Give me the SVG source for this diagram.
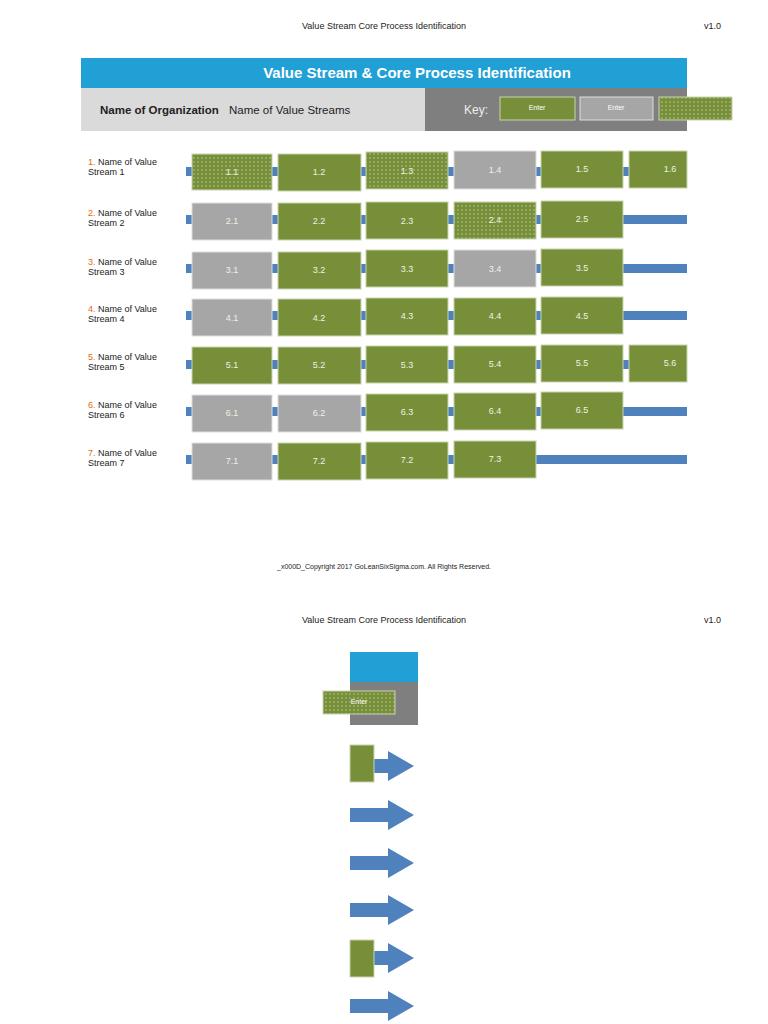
<svg xmlns="http://www.w3.org/2000/svg" width="768" height="1024" viewBox="0 0 768 1024">
<style>
text{font-family:"Liberation Sans",Arial,sans-serif}
.h{font-size:9px;fill:#222}
.g{fill:#768f38;stroke:#c9d3b0;stroke-width:1}
.d{fill:url(#dots);stroke:#c9d3b0;stroke-width:1}
.y{fill:#a6a6a6;stroke:#ddd;stroke-width:1}
.bar{fill:#4f81bd}
.n{font-size:9px;fill:#eef2e4;text-anchor:middle}
.lb{font-size:9px;fill:#222}
.o{fill:#e36c0a}
</style>
<defs>
<pattern id="dots" width="4" height="4" patternUnits="userSpaceOnUse">
<rect width="4" height="4" fill="#768f38"/><circle cx="2" cy="2" r="0.7" fill="#c8d6a8"/>
</pattern>
</defs>
<text class="h" x="384" y="29" text-anchor="middle">Value Stream Core Process Identification</text>
<text class="h" x="704" y="29">v1.0</text>
<rect x="81" y="58" width="606" height="30" fill="#21a0d6"/>
<text x="417" y="78" font-size="15" font-weight="bold" fill="#fff" text-anchor="middle">Value Stream &amp; Core Process Identification</text>
<rect x="81" y="88" width="344" height="43" fill="#dadada"/>
<rect x="425" y="88" width="262" height="43" fill="#7f7f7f"/>
<text x="100" y="114" font-size="11.5" font-weight="bold" fill="#222">Name of Organization</text>
<text x="229" y="114" font-size="11.5" fill="#222">Name of Value Streams</text>
<text x="464" y="114" font-size="12" fill="#eee">Key:</text>
<g id="key"><rect x="500" y="97" width="75" height="23" class="g"/><text x="537" y="110" font-size="7" fill="#fff" text-anchor="middle">Enter</text>
<rect x="580" y="97" width="73" height="23" class="y"/><text x="616" y="110" font-size="7" fill="#fff" text-anchor="middle">Enter</text>
<rect x="659" y="97" width="73" height="23" class="d"/></g>
<g id="labels" class="lb">
<text x="88" y="165"><tspan class="o">1.</tspan> Name of Value</text><text x="88" y="175">Stream 1</text>
<text x="88" y="216"><tspan class="o">2.</tspan> Name of Value</text><text x="88" y="226">Stream 2</text>
<text x="88" y="265"><tspan class="o">3.</tspan> Name of Value</text><text x="88" y="275">Stream 3</text>
<text x="88" y="312"><tspan class="o">4.</tspan> Name of Value</text><text x="88" y="322">Stream 4</text>
<text x="88" y="360"><tspan class="o">5.</tspan> Name of Value</text><text x="88" y="370">Stream 5</text>
<text x="88" y="408"><tspan class="o">6.</tspan> Name of Value</text><text x="88" y="418">Stream 6</text>
<text x="88" y="456"><tspan class="o">7.</tspan> Name of Value</text><text x="88" y="466">Stream 7</text>
</g>
<g id="connectors">
<rect class="bar" x="186" y="167" width="501" height="9"/>
<rect class="bar" x="186" y="215" width="501" height="9"/>
<rect class="bar" x="186" y="264" width="501" height="9"/>
<rect class="bar" x="186" y="311" width="501" height="9"/>
<rect class="bar" x="186" y="360" width="501" height="9"/>
<rect class="bar" x="186" y="407" width="501" height="9"/>
<rect class="bar" x="186" y="455" width="501" height="9"/>
</g>
<g id="row1">
<rect class="d" x="192" y="154" width="80" height="36"/><text class="n" x="232" y="175">1.1</text>
<rect class="g" x="278" y="154" width="83" height="37"/><text class="n" x="319" y="175">1.2</text>
<rect class="d" x="366" y="152" width="82" height="37"/><text class="n" x="407" y="174">1.3</text>
<rect class="y" x="454" y="151" width="82" height="38"/><text class="n" x="495" y="173">1.4</text>
<rect class="g" x="541" y="151" width="82" height="37"/><text class="n" x="582" y="172">1.5</text>
<rect class="g" x="629" y="151" width="58" height="37"/><text class="n" x="670" y="172">1.6</text>
</g>
<g id="row2">
<rect class="y" x="192" y="203" width="80" height="37"/><text class="n" x="232" y="224">2.1</text>
<rect class="g" x="278" y="203" width="83" height="37"/><text class="n" x="319" y="224">2.2</text>
<rect class="g" x="366" y="202" width="82" height="37"/><text class="n" x="407" y="224">2.3</text>
<rect class="d" x="454" y="202" width="82" height="37"/><text class="n" x="495" y="223">2.4</text>
<rect class="g" x="541" y="201" width="82" height="37"/><text class="n" x="582" y="222">2.5</text>
</g>
<g id="row3">
<rect class="y" x="192" y="252" width="80" height="37"/><text class="n" x="232" y="273">3.1</text>
<rect class="g" x="278" y="252" width="83" height="37"/><text class="n" x="319" y="273">3.2</text>
<rect class="g" x="366" y="250" width="82" height="37"/><text class="n" x="407" y="272">3.3</text>
<rect class="y" x="454" y="250" width="82" height="37"/><text class="n" x="495" y="272">3.4</text>
<rect class="g" x="541" y="249" width="82" height="37"/><text class="n" x="582" y="271">3.5</text>
</g>
<g id="row4">
<rect class="y" x="192" y="299" width="80" height="37"/><text class="n" x="232" y="321">4.1</text>
<rect class="g" x="278" y="299" width="83" height="37"/><text class="n" x="319" y="321">4.2</text>
<rect class="g" x="366" y="298" width="82" height="37"/><text class="n" x="407" y="319">4.3</text>
<rect class="g" x="454" y="298" width="82" height="37"/><text class="n" x="495" y="319">4.4</text>
<rect class="g" x="541" y="297" width="82" height="37"/><text class="n" x="582" y="319">4.5</text>
</g>
<g id="row5">
<rect class="g" x="192" y="347" width="80" height="37"/><text class="n" x="232" y="368">5.1</text>
<rect class="g" x="278" y="347" width="83" height="37"/><text class="n" x="319" y="368">5.2</text>
<rect class="g" x="366" y="346" width="82" height="37"/><text class="n" x="407" y="368">5.3</text>
<rect class="g" x="454" y="346" width="82" height="37"/><text class="n" x="495" y="367">5.4</text>
<rect class="g" x="541" y="345" width="82" height="37"/><text class="n" x="582" y="366">5.5</text>
<rect class="g" x="629" y="345" width="58" height="37"/><text class="n" x="670" y="366">5.6</text>
</g>
<g id="row6">
<rect class="y" x="192" y="395" width="80" height="37"/><text class="n" x="232" y="416">6.1</text>
<rect class="y" x="278" y="395" width="83" height="37"/><text class="n" x="319" y="416">6.2</text>
<rect class="g" x="366" y="394" width="82" height="37"/><text class="n" x="407" y="415">6.3</text>
<rect class="g" x="454" y="393" width="82" height="37"/><text class="n" x="495" y="414">6.4</text>
<rect class="g" x="541" y="392" width="82" height="37"/><text class="n" x="582" y="413">6.5</text>
</g>
<g id="row7">
<rect class="y" x="192" y="443" width="80" height="37"/><text class="n" x="232" y="464">7.1</text>
<rect class="g" x="278" y="443" width="83" height="37"/><text class="n" x="319" y="464">7.2</text>
<rect class="g" x="366" y="442" width="82" height="37"/><text class="n" x="407" y="463">7.2</text>
<rect class="g" x="454" y="441" width="82" height="37"/><text class="n" x="495" y="462">7.3</text>
</g>
<text x="384" y="569" font-size="7" fill="#222" text-anchor="middle">_x000D_Copyright 2017 GoLeanSixSigma.com. All Rights Reserved.</text>
<text class="h" x="384" y="623" text-anchor="middle">Value Stream Core Process Identification</text>
<text class="h" x="704" y="623">v1.0</text>
<g id="page2">
<rect x="350" y="652" width="68" height="30" fill="#21a0d6"/>
<rect x="350" y="682" width="68" height="43" fill="#7f7f7f"/>
<rect class="d" x="323" y="691" width="72" height="23"/><text x="359" y="704" font-size="7" fill="#fff" text-anchor="middle">Enter</text>
<g fill="#4f81bd">
<path d="M350 759h38v-8l26 15-26 15v-8h-38z"/>
<path d="M350 808h38v-8l26 15-26 15v-8h-38z"/>
<path d="M350 856h38v-8l26 15-26 15v-8h-38z"/>
<path d="M350 903h38v-8l26 15-26 15v-8h-38z"/>
<path d="M350 951h38v-8l26 15-26 15v-8h-38z"/>
<path d="M350 999h38v-8l26 15-26 15v-8h-38z"/>
</g>
<rect class="g" x="350" y="745" width="24" height="37"/>
<rect class="g" x="350" y="940" width="24" height="37"/>
</g>
</svg>
